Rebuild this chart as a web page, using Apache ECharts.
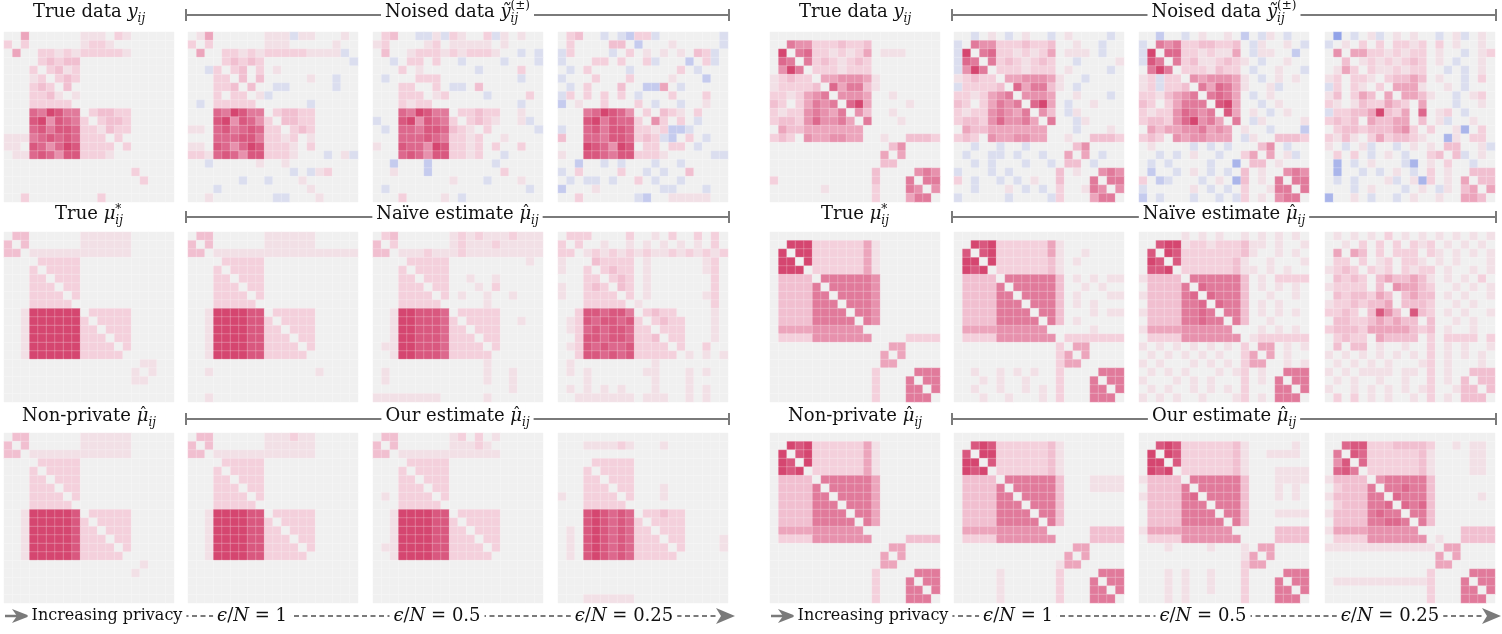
<!DOCTYPE html>
<html style="height: 100%">
<head>
<meta charset="utf-8">
<title>Noised data, naive and private estimates</title>
<script src="https://cdn.jsdelivr.net/npm/echarts@6.0.0/dist/echarts.min.js"></script>
</head>
<body style="height: 100%; margin: 0; background: #fff">
<div id="target" style="width: 1502px; height: 634px"></div>
<script>
// ---------------- data (one string per row, one char per cell) ----------------
// '.' = 0, '1'..'9' = increasing positive, 'a'..'e' = increasing negative
const LEVEL_CHARS = '.123456789abcde';
const LEVEL_VALUES = [0, 0.1, 0.2, 0.3, 0.45, 0.56, 0.68, 0.77, 0.86, 0.96, -0.1, -0.2, -0.35, -0.5, -0.65];
const COLOR_STOPS = ['#4a6fe3', '#6782e4', '#8397e6', '#a1aee9', '#c5cbee', '#f0f0f0',
                     '#f4d0dc', '#eeaec3', '#e58aa7', '#dc6288', '#d33f6a'];

const EPS_LABELS = ['1', '0.5', '0.25'];

// left network
const L_TRUE_Y = [
"..4......111.21.....","2.2......1221.......",".4..22121222221.....","....23233...........",
"...2.2312...........","...12.232...........","...232.3............","...2231.1...........",
"...22222............","...769866.23322.....","...8958762.2332.....","...786887221322.....",
"111678787222.2......","11.8757982222.2.....",".117875882221.......","....................",
"...............2....","................2...","....................","..2........2........"];
const L_NOISED_1 = [
".14......111a11...1.","2.2......111.....1..",".4..22121222221111a.","....23232..........a",
"..a2.23.2.1.........","...22.3.3.....1..a..","...223.3..aa.....a..","...2.22.1a..........",
".a.22222......a.....","...769866.23322.....","...8958752.3322.....","11.78678722.232.....",
"...7778862212.1.....","11.8757982221.2.....","2217875882221...a.1a","..a.....1..1........",
"............a.a12...","......a..a...1......","...a..........1.....","..1.......aa...1...."];
const L_NOISED_05 = [
".23..aa1a21..2a1.1..","12....12.11111.1....",".3..12221212221..a.a","..a.22.2..a....a...a",
"...2.1......a....2..",".a...222.........a..","...22..2.aa.3.......","...222.12....a....2.",
"...2122..........a..","...769866.22322..1..","a..8958762.2321..1a.",".a.776887321.2.....a",
"...7778762212..1....","1..8775982212.2..2..","...7875882212..a....","..b...b.......a.....",
"..1...b........2....",".........1...a...1..",".a................a.","...2....1.a........."];
const L_NOISED_025 = [
".23..a.ab22a.......a",".2....33.b...1.....a","a2....a.2.1.1.1.32a.","a...22.2..2a...b.2a.",
".a.2....a.....2.a...","a...2...2....1...b..",".a.2...3..bb4.a.....","a2.2.2.2.a...2...2..",
"b.1..2...2.a..a..1..","...679875.2.321.2...","...8968772.52.2.a...","a..7868872212bba....",
"3..776887232ab.2.a..","...987598.22.22.a...","1..8876882221.....aa","..b..a.a...a..a.....",
"a.2....2..a.a..3....",".a.aa.a..2.a..a.....","b...1.......aa...a..","..2......ab..11111.."];
const L_TRUE_MU = [
".33......111111.....","3.3......111111.....","33.111111111111.....","....22222...........",
"...2.2222...........","...22.222...........","...222.22...........","...2222.2...........",
"...22222............","..1999999.22222.....","..19999992.2222.....","..199999922.222.....",
"..1999999222.22.....","..19999992222.2.....","..199999922222......","................11..",
"...............1.1..","...............11...","....................","...................."];
const L_NAIVE_1 = [
".33......111111.....","3.3......111111.....","33.11111111111111111","....22222...........",
"...2.2222...........","...22.222...........","...222.22...........","...2222.2...........",
"...22222............","..1999988.22222.....","..19999882.2222.....","..199998822.222.....",
"..1999988222.22.....","..19999882222.2.....","..199998822222......","....................",
"..1............1....","....................","....................","..1................."];
const L_NAIVE_05 = [
".23......12121112111","3.2......12111211111","33.11121112111111111","....22222.........1.",
"...2.2222...........","...22.222..1..1.....","...222.22...1.2.....","...2222.2.1..1..1...",
"...22222.....1......","..1998887.22222.....","..19988872.2222..1..","..199888722.222.....",
"..1998887222.22.....",".119988872222.2.....","..199888722222......",".............1......",
".1...........1..1...",".1...........1..1...","................1...","11111111.....1......"];
const L_NAIVE_025 = [
".222....2..1.2..2.2.","2.2..1..1.1.1.1.1.2.","22.12121212112121212","1...32222.1......12.",
"1..2.2322.1......12.","...22.232.1.......2.","1..232.32.1.......2.","1..2222.2.1......12.",
"...22222.1........2.","..2887886.2322....1.",".128788782.2322...1.",".1278788722.222...1.",
"..2887887223.22...1.",".128787782222.2..2..","..288787822222.1.1.1",".1.........1........",
".1.1......11...1.1..","...1.......1...1....",".1.1.1.1...1...1.1..","..1111111.111..1.1.."];
const L_NONPRIV = [
".33......111111.....","3.3......111111.....","33.111111111111.....","....22222...........",
"...2.2222...........","...22.222...........","...222.22...........","...2222.2...........",
"...22222............","..1999998.22222.....","..19999982.2222.....","..199999822.222.....",
"..1999998222.22.....","..19999982222.2.....","..199999822222......","................1...",
"...............1....","....................","....................","...................."];
const L_OURS_1 = [
".33......111211.....","3.3......111111.....","33.111111111111.....","....22222...........",
"...2.2222...........","...22.222...........","...222.22...........","...2222.2...........",
"...22222............","..1999988.22222.....","..19999882.2222.....","..199998822.222.....",
"..1999988222.22.....","..19999882222.2.....","..199998822222......","....................",
"....................","....................","....................","...................."];
const L_OURS_05 = [
".33......12.2.1.....","3.3......11121......","33.111111111111.....","....22222...........",
"...2.2222...........","...22.222...........","...222.22...........",".1.2222.2...........",
"...22222............","..1999988.22222.....","..19999882.2222.....","..199998822.222.....",
"..1999988222.22.....",".119999882222.2.....","..199998822222......","....................",
"....................","....................","....................","...................."];
const L_OURS_025 = [
"....................","...111121...1.......","....................","....22222...........",
"...2.2222...........","...22.222...........","...222.22...1.......","1..2222.2...1.......",
"...22222............","...898787.22322.....","...8987872.2222.....",".1.89878722.222.....",
".1.898787222.22....1",".1.8987872222.2....1",".1.89878722222......","....................",
"....................","....................","....................","...111111..........."];

// right network
const R_TRUE_Y = [
"....................","..6552223223........",".9.672212124.111....",".76.62321232........",
".596.2221222........","12322.4455541.......","122223.746631.......","2212456.5554..1.....",
"32.24656.794....1...","212256546.53..1.....","2332575564.6...1....",".4334444444.........",
"232.5445544..1..3332","..............35....",".............4.4....",".............33.....",
"............3....565","2...........3...6.66","......1.....2...65.5","............2...466."];
const R_NOISED_1 = [
"..a.1.a.1..a.1....a.","a.6552223223..1..a..","a9.672212124.111.a..","a76.62321232..a....1",
"a596.2221222.1....a.","12322.4455541..a....","a22223.746631.a.....","2212456.5554..1...a.",
"32.24656.794.a..1...","212256546.53.a1.....","2332575564.6..a1....",".4334444444...a...1.",
"232.5445544..1..3332","..a..a..a.....35....",".a..aa.a..a..4.4.a..","..a.a...a..a.33.a...",
"a...a.a.....3.1..565","2.a..a.a.1..3...6.66","..a...1.a.a.2..165.5","a.....a....a2...466."];
const R_NOISED_05 = [
"..b..a.1..1.b.a1.a..","a.6562233223.a1..1.a","a9.772212114.a11..b.","a86.623112321.a..1..",
".696.2221322.a..1..a","12a22.5455541.a.1.1.","12a223.647641..1a...","2213456.6764.a.1....",
"32.24666.894..a.1...","212257656.84.1.a.1..","2332579564.6.a1....1",".4344556454.1..a...b",
"232.5455444.a1..3332",".1....a.a.a...35.a..","..a.a.1..a..24.4.1a.",".a.a....a..c.33.1...",
".b..a.1.a.a.3.1..565","2.ba...a.1.c3.1.6.66","a.....1.a.a.2..166.6","b.a...a..a.a2.1.566."];
const R_NOISED_025 = [
".d.a.1a.1.1..a.1a.1.","a.1.2.2.2212.2.1..1.",".5.442212122.1..a.12","..3.12121232.1.a..1.",
".142.2112122..a.a.1.","12.221.23343.1..a.2.","a2.21.2.4441..1.a...","13.243.4.4431..a.12.",
"21.1322432.4...a..1.","a223349324.7.12.a...","2323.43344.3.1a..1..",".2332333452.2..1c.2.",
"2131.2423321..c1.22.","1.a.1a..a.1.1.33..1a",".2.2.a.1.a..23.3a.1.",".c.a.1...ac.1.2..a..",
".c..a.a.1.a.2.1..333",".a.a...1a.1c2.1.4.33","...a.1...a.1.a1.34.4","c..1.a..a.1..1..443."];
const R_TRUE_MU = [
"....................","..99922222241.......",".9.9922222241.......",".99.922222241.......",
".999.22222241.......",".3333.6666665.......",".33336.666665.......",".333366.66665.......",
".3333666.6665.......",".33336666.665.......",".333366666.65.......",".4444555555.........",
".22225555555....2222","..............44....",".............4.4....",".............44.....",
"............2....666","............2...6.66","............2...66.6","............2...666."];
const R_NAIVE_1 = [
"....................","..98922222241.......",".8.8922222241..1....",".99.922222231.1.....",
".989.22222231.......",".3333.6666663.1.1.11",".33336.666663..1.1..",".333366.66663.1...11",
".3333666.6663.1.1...",".33336666.663...1.11",".333366666.63.1.....",".4444555555.....1...",
".22225555555.2222222","............2.44....","............24.4....","............244.....",
"..1..1.1.1..2....666","...1.1..1...2...6.66","..1..1..1.1.2...66.6","...1..1...1.2...666."];
const R_NAIVE_05 = [
".....1.1.1..1.1.1.1.","..8991221222311.1..1",".8.98222222231..1.1.",".98.822222231..1...1",
".889.222222311.1.1..","13333.6666663.1.2222",".33336.766663.1.1.1.","1333367.76663..1..1.",
".3333667.7663.1.1...","133336676.663.1.1.1.",".333366766.63..1....","14444555555...1.1.1.",
".22225555555.1222222","1.1.1.1.1.1.2.44.1.1",".1.1.1.1.1..24.4.1..","1.1...1.1.1.244..1.1",
".1.1.1...1.12.1..666","1...1.1.1...2.1.6.66",".1.1..1.1.1.2...66.6","1.1.1..1...12.1.666."];
const R_NAIVE_025 = [
".1.1.1.2.1.1.1.1.1.1","..1.2.2.2.212.1.1.1.",".4.43.2.222.21.1.1.1",".22.2.12.221.1.1...1",
"1232.212.2122.1..1.1",".3232.3433431.1.1.2.","12222.3.54432..1.1.1",".3233243.3433.1.1..1",
"12232334.3332..1.1..","2232.3853.832.1.1..1",".3322343433.3..1.1..","2333244444323.1..1..",
".2322.43333.2.2222.2",".3.33.1..1..2.1.1..1","1.1.1.1.1.1.2.1.1.1.",".1.1.1.1...12.1...1.",
"1.1.1111.11.2.1..333",".1.1..1..1..2.1.3.33","1..1.1.1.1.12..133.3",".2.2.1.1..1.2.1.333."];
const R_NONPRIV = [
"....................","..98922222241.......",".9.8922222241.......",".98.922222241.......",
".989.22222241.......",".3333.6666664.......",".33336.666664.......",".333366.66664.......",
".3333666.6664.......",".33336666.664.......",".333366666.64.......",".4444555555.........",
".22225555555....3333","..............44....",".............4.4....",".............44.....",
"............2....666","............2...6.66","............2...66.6","............2...666."];
const R_OURS_1 = [
"....................","..89822222231.......",".8.9922222231.......",".99.822222231.......",
".989.22222231.......",".3333.6666663...1111",".33336.666663...1111",".333366.66663.......",
".3333666.6663.......",".33336666.663.......",".333366666.63.......",".4444555555.....3333",
".22225555555....3333","..............44....",".............4.4....","............144.....",
".....1......2....666",".....1......2...6.66",".....1......2...66.6",".....1......2...666."];
const R_OURS_05 = [
"....................","..89822222231.....1.",".9.9822222231..1111.",".99.822222231.......",
".989.22222231...1111","13333.6666663...1111",".33336.666663...1.1.","1333367.66663...1.1.",
".3333666.6663.......",".33336666.663...1111",".333366666.63.......","14444555555.....3333",
".22225555555....3333","...1....1...1.44....","............14.4....","............244.....",
"...1.1..1...2....666","...1.1..1...2...6.66","...1.1..1...2...66.6","...1.1......2...666."];
const R_OURS_025 = [
"....................","..78822233332..1.11.",".6.8722222231....11.",".58.722222231....11.",
".786.22222231....11.","13333.5666663.......",".23336.667663.......","1333366.76663.....1.",
".2333667.7673.......","133336766.663.......",".333366776.63.......","14444555555.....3333",
".22225555555.1..3333","1111111111111.44....",".............4.4....",".............44.....",
"............2....666",".111111111112...6.66","............2...66.6","............2...666."];

// ---------------- layout ----------------
const PANELS = [
    [[L_TRUE_Y, L_NOISED_1, L_NOISED_05, L_NOISED_025],
     [L_TRUE_MU, L_NAIVE_1, L_NAIVE_05, L_NAIVE_025],
     [L_NONPRIV, L_OURS_1, L_OURS_05, L_OURS_025]],
    [[R_TRUE_Y, R_NOISED_1, R_NOISED_05, R_NOISED_025],
     [R_TRUE_MU, R_NAIVE_1, R_NAIVE_05, R_NAIVE_025],
     [R_NONPRIV, R_OURS_1, R_OURS_05, R_OURS_025]]
];
const LEFTS = [[4, 188, 373, 558], [770, 954, 1139, 1325]];
const TOPS = [32, 232, 433];
const BOX = 170;
const N = 20;
const NODES = [];
for (let i = 0; i < N; i++) NODES.push(String(i));

let toCells = (rows) => {
    let out = [];
    rows.forEach((row, i) => {
        let s = (row + '.'.repeat(N)).slice(0, N);
        for (let j = 0; j < N; j++) {
            let k = LEVEL_CHARS.indexOf(s[j]);
            out.push([j, i, k < 0 ? 0 : LEVEL_VALUES[k]]);
        }
    });
    return out;
};

let grids = [], xAxes = [], yAxes = [], series = [];
for (let p = 0; p < 2; p++) {
    for (let r = 0; r < 3; r++) {
        for (let c = 0; c < 4; c++) {
            let idx = grids.length;
            grids.push({left: LEFTS[p][c], top: TOPS[r], width: BOX, height: BOX});
            xAxes.push({type: 'category', gridIndex: idx, data: NODES, show: false});
            yAxes.push({type: 'category', gridIndex: idx, data: NODES, show: false, inverse: true});
            series.push({
                type: 'heatmap',
                xAxisIndex: idx,
                yAxisIndex: idx,
                data: toCells(PANELS[p][r][c]),
                itemStyle: {borderColor: 'rgba(255,255,255,0.45)', borderWidth: 0.5},
                emphasis: {disabled: true},
                silent: true,
            });
        }
    }
}

// ---------------- text helpers ----------------
const SERIF = '"DejaVu Serif", "Liberation Serif", serif';
const measure = document.createElement('canvas').getContext('2d');
let fontOf = (p) => (p.it ? 'italic ' : '') + p.sz + 'px ' + SERIF;

// lays out math-like pieces (sub/superscripts, accents) centred at cx, on baseline base
let mathText = (parts, cx, base) => {
    let pos = [], x = 0, anchor = 0, anchorW = 0;
    parts.forEach(p => {
        measure.font = fontOf(p);
        let w = measure.measureText(p.t).width;
        if (p.stack) {
            pos.push(anchor);
            if (!p.accent) anchorW = Math.max(anchorW, w);
            x = anchor + anchorW;
        } else {
            pos.push(x);
            anchor = x;
            anchorW = w;
            x += w;
        }
    });
    let x0 = cx - x / 2;
    let els = parts.map((p, i) => ({
        type: 'text',
        x: x0 + pos[i] + (p.dx || 0),
        y: base + (p.dy || 0) - 0.34 * p.sz,
        z: 3,
        silent: true,
        style: {
            text: p.t, font: fontOf(p), fill: '#111',
            textAlign: 'left', textVerticalAlign: 'middle',
            align: 'left', verticalAlign: 'middle',
        },
    }));
    return {els: els, left: x0, right: x0 + x};
};

const M = 18, S = 12;
const HAT = {t: 'ˆ', sz: 16, stack: true, accent: true, dx: 2.5, dy: -2.5};
const FIRST_TITLES = [
    [{t: 'True data ', sz: M}, {t: 'y', sz: M, it: true}, {t: 'ij', sz: S, it: true, dy: 4.5}],
    [{t: 'True ', sz: M}, {t: 'μ', sz: M, it: true}, {t: '*', sz: S, dy: -7}, {t: 'ij', sz: S, it: true, dy: 4.5, stack: true}],
    [{t: 'Non-private ', sz: M}, {t: 'μ', sz: M, it: true}, HAT, {t: 'ij', sz: S, it: true, dy: 4.5}],
];
const BRACKET_TITLES = [
    [{t: 'Noised data ', sz: M}, {t: 'ỹ', sz: M, it: true}, {t: 'ij', sz: S, it: true, dy: 4.5}, {t: '(±)', sz: S, dy: -8.5, stack: true}],
    [{t: 'Naïve estimate ', sz: M}, {t: 'μ', sz: M, it: true}, HAT, {t: 'ij', sz: S, it: true, dy: 4.5}],
    [{t: 'Our estimate ', sz: M}, {t: 'μ', sz: M, it: true}, HAT, {t: 'ij', sz: S, it: true, dy: 4.5}],
];
const BASELINES = [18.5, 220.5, 422.5];

let graphic = [];
const GREY = '#7a7a7a';
let addLine = (x1, y1, x2, y2, w, dash) => {
    graphic.push({type: 'line', z: 1, silent: true,
        shape: {x1: x1, y1: y1, x2: x2, y2: y2},
        style: {stroke: GREY, lineWidth: w, lineDash: dash || null}});
};
let addMask = (lbl, y, h) => {
    graphic.push({type: 'rect', z: 2, silent: true,
        shape: {x: lbl.left - 4, y: y - h / 2, width: lbl.right - lbl.left + 8, height: h},
        style: {fill: '#fff'}});
    graphic.push(...lbl.els);
};

for (let p = 0; p < 2; p++) {
    for (let r = 0; r < 3; r++) {
        let base = BASELINES[r];
        let first = mathText(FIRST_TITLES[r], LEFTS[p][0] + BOX / 2, base);
        graphic.push(...first.els);

        let x1 = LEFTS[p][1] - 2, x2 = LEFTS[p][3] + BOX + 1, ly = base - 3.5;
        addLine(x1, ly, x2, ly, 2);
        addLine(x1, ly - 6, x1, ly + 6, 2);
        addLine(x2, ly - 6, x2, ly + 6, 2);
        addMask(mathText(BRACKET_TITLES[r], (x1 + x2) / 2, base), ly, 8);
    }

    // privacy arrow
    let ox = p ? 766 : 0, ay = 616, bb = 622;
    addLine(ox + 5, ay, ox + 20, ay, 2.5);
    addLine(ox + 22, ay, ox + 716, ay, 2, [5, 3.5]);
    graphic.push({type: 'polygon', z: 1, silent: true,
        shape: {points: [[ox + 12, ay - 7], [ox + 30, ay], [ox + 12, ay + 7], [ox + 17, ay]]},
        style: {fill: GREY}});
    graphic.push({type: 'polygon', z: 1, silent: true,
        shape: {points: [[ox + 716, ay - 8], [ox + 735, ay], [ox + 716, ay + 8], [ox + 721, ay]]},
        style: {fill: GREY}});
    addMask(mathText([{t: 'Increasing privacy', sz: 16}], ox + 107, bb - 0.5), ay, 10);
    let centers = [252, 437, 624];
    EPS_LABELS.forEach((e, i) => {
        addMask(mathText([{t: 'ϵ', sz: 18, it: true}, {t: '/', sz: 18}, {t: 'N', sz: 18, it: true},
                          {t: ' = ' + e, sz: 18}], ox + centers[i], bb), ay, 10);
    });
}

// ---------------- chart ----------------
let chart = echarts.init(document.getElementById('target'));
let option = {
    animation: false,
    backgroundColor: '#fff',
    grid: grids,
    xAxis: xAxes,
    yAxis: yAxes,
    visualMap: {
        type: 'continuous',
        show: false,
        min: -1,
        max: 1,
        seriesIndex: series.map((s, i) => i),
        inRange: {color: COLOR_STOPS},
    },
    series: series,
    graphic: graphic,
};
chart.setOption(option);
</script>
</body>
</html>
